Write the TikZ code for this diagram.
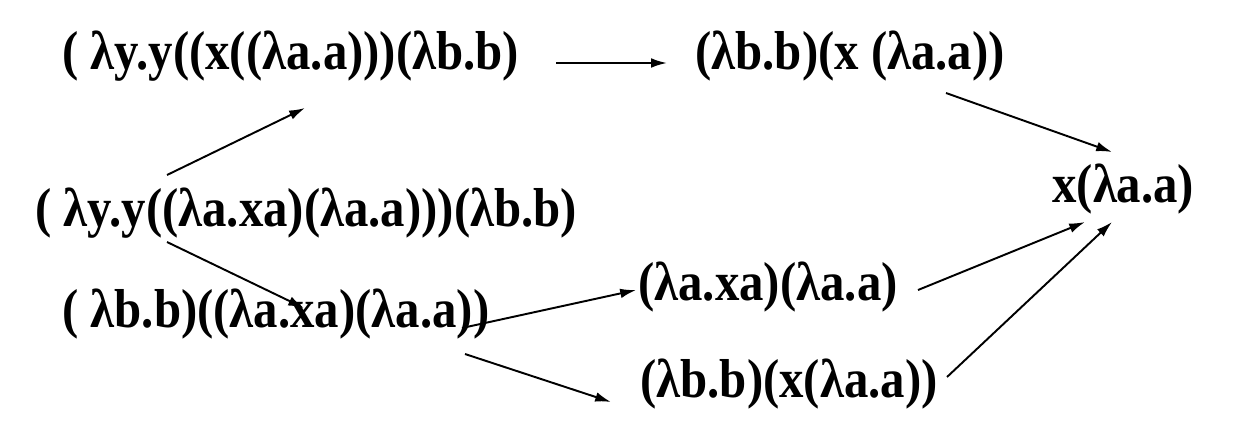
\documentclass[tikz,border=0pt]{standalone}
\usepackage{fontspec}
\setmainfont{Liberation Serif}[FakeStretch=0.89]
\usetikzlibrary{arrows.meta}

\begin{document}
\begin{tikzpicture}[
        term/.style={anchor=base west, inner sep=0pt, font=\bfseries\fontsize{31.2}{36}\selectfont},
        reduce/.style={-{Latex[length=9pt, width=5.5pt]}, line width=1.1pt}
    ]
        \useasboundingbox (0, 0) rectangle (25.04, -8.92);

        \node[term] (start) at (0.7, -4.52) {( λy.y((λa.xa)(λa.a)))(λb.b)};
        \node[term] (up) at (1.24, -1.38) {( λy.y((x((λa.a)))(λb.b)};
        \node[term] (down) at (1.24, -6.54) {( λb.b)((λa.xa)(λa.a))};
        \node[term] (upright) at (13.9, -1.38) {(λb.b)(x (λa.a))};
        \node[term] (mid) at (12.76, -6.0) {(λa.xa)(λa.a)};
        \node[term] (low) at (12.8, -7.94) {(λb.b)(x(λa.a))};
        \node[term] (nf) at (21.04, -4.04) {x(λa.a)};

        \coordinate (S1) at (3.34, -3.5);
        \coordinate (T1) at (6.1, -2.16);
        \coordinate (S2) at (3.34, -4.84);
        \coordinate (T2) at (6.08, -6.16);
        \coordinate (S3) at (11.12, -1.26);
        \coordinate (T3) at (13.34, -1.26);
        \coordinate (S4) at (18.92, -1.86);
        \coordinate (T4) at (22.24, -3.04);
        \coordinate (S5) at (9.24, -6.56);
        \coordinate (T5) at (12.72, -5.8);
        \coordinate (S6) at (9.3, -7.08);
        \coordinate (T6) at (12.22, -8.04);
        \coordinate (S7) at (18.36, -5.8);
        \coordinate (T7) at (21.7, -4.44);
        \coordinate (S8) at (18.94, -7.54);
        \coordinate (T8) at (22.24, -4.44);

        \draw[reduce] (S1) -- (T1);
        \draw[reduce] (S2) -- (T2);
        \draw[reduce] (S3) -- (T3);
        \draw[reduce] (S4) -- (T4);
        \draw[reduce] (S5) -- (T5);
        \draw[reduce] (S6) -- (T6);
        \draw[reduce] (S7) -- (T7);
        \draw[reduce] (S8) -- (T8);

    \end{tikzpicture}
\end{document}
